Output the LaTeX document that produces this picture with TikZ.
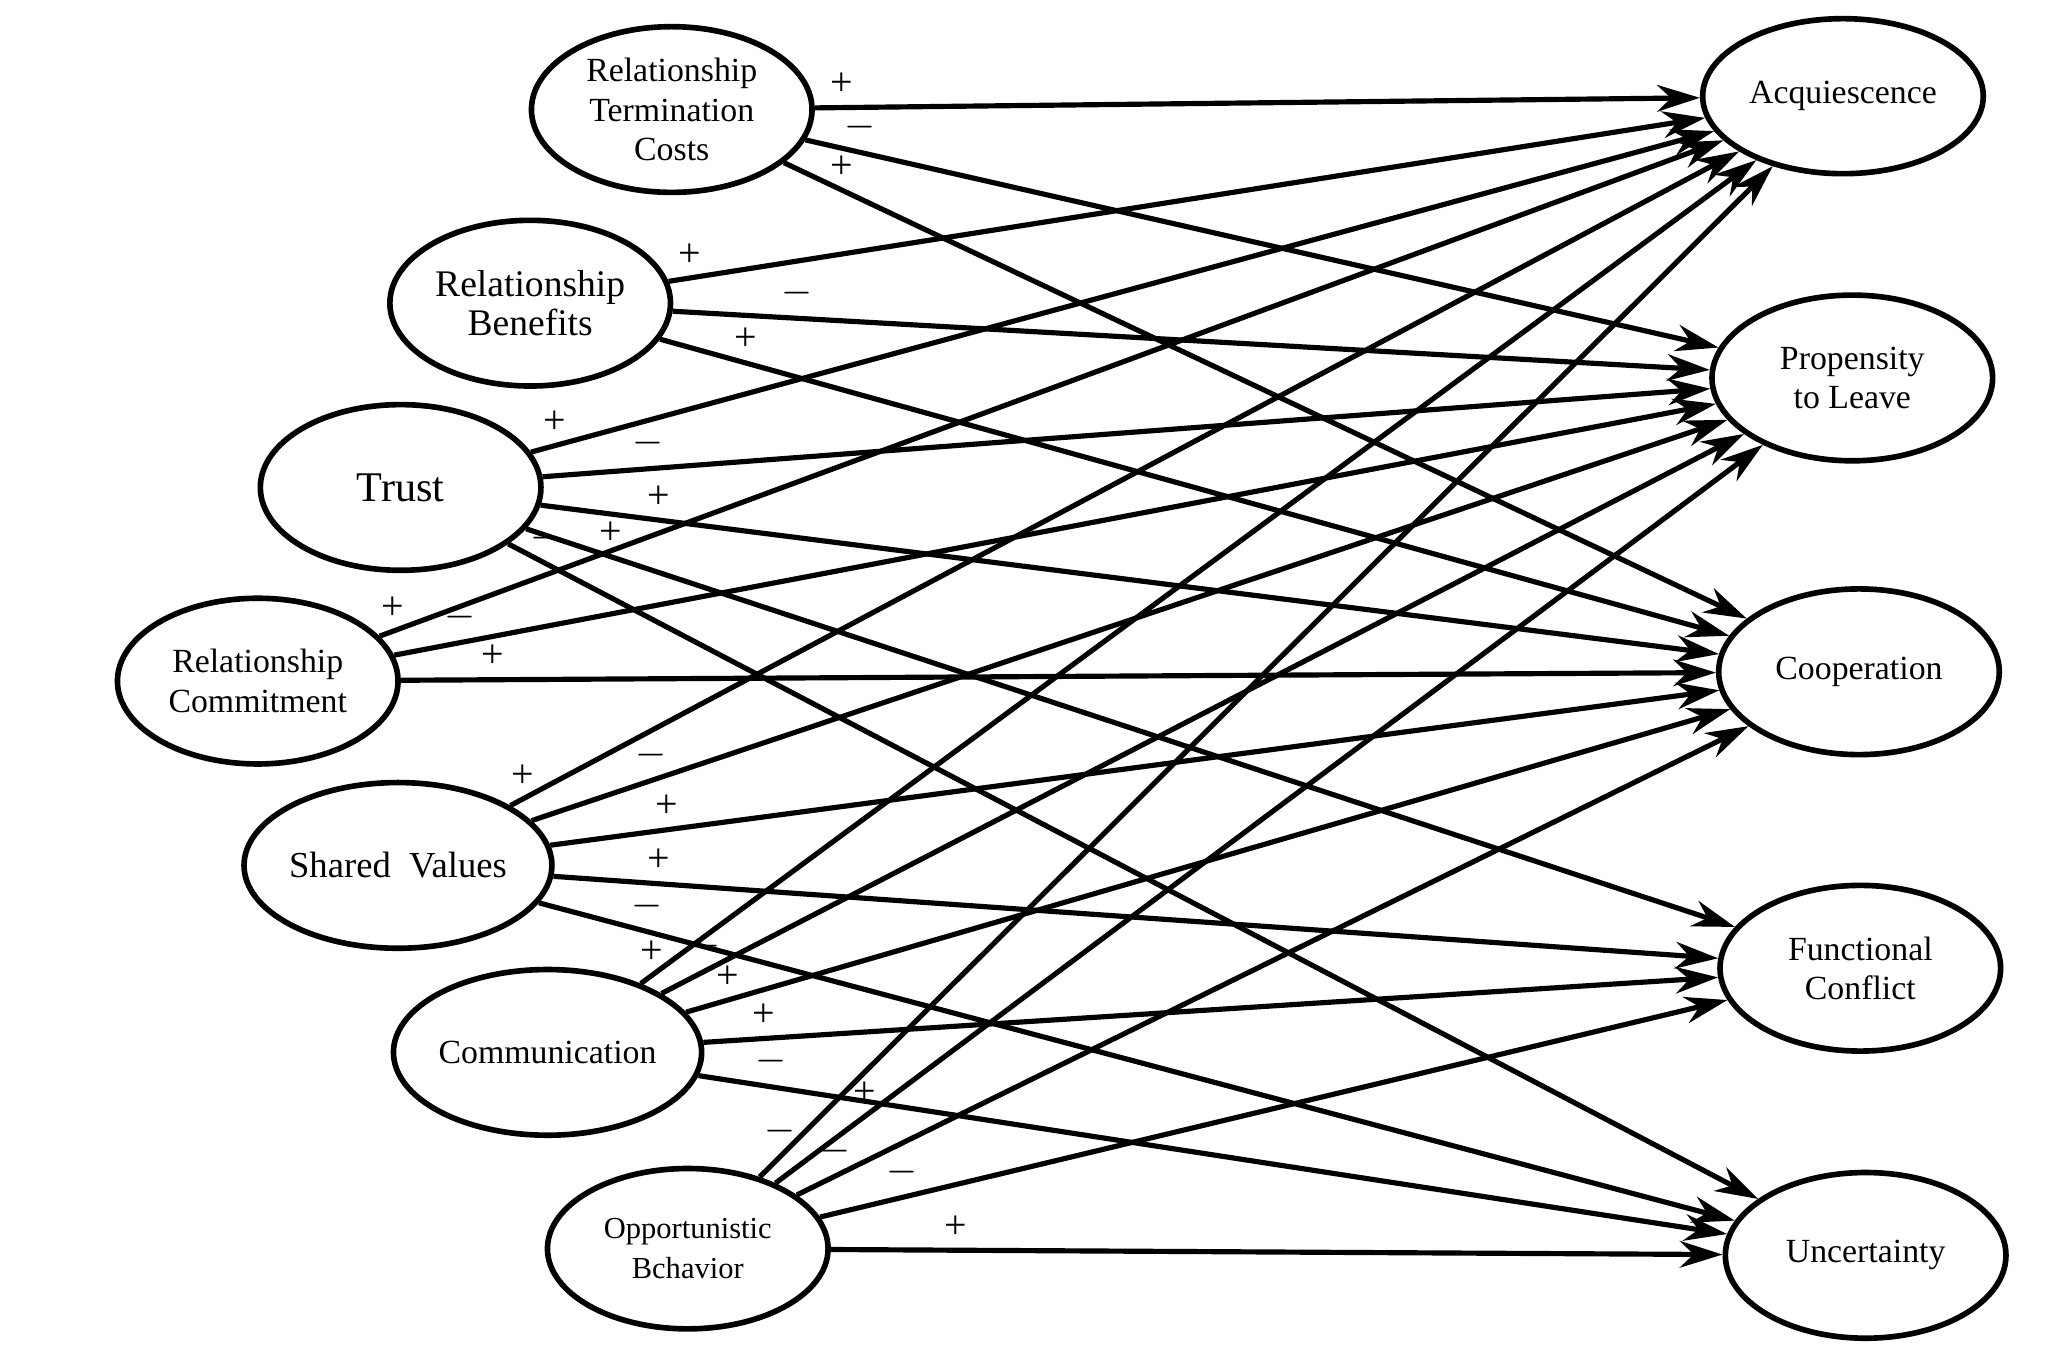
\documentclass[tikz,border=0pt]{standalone}
\usepackage{fontspec}
\setmainfont{Liberation Serif}
\usetikzlibrary{shapes.geometric,arrows.meta}
\begin{document}
\begin{tikzpicture}[x=0.01cm,y=-0.01cm,
  el/.style={ellipse,draw,line width=1.2pt,minimum width=2.1cm,minimum height=1.24cm,inner sep=0pt,align=center,font=\fontsize{7.2}{8.4}\selectfont},
  ar/.style={line width=1.1pt,-{Stealth[length=0.32cm,width=0.2cm]}},
  sg/.style={font=\fontsize{8.5}{10}\selectfont,above,pos=0.09,inner sep=2pt}]
\useasboundingbox (0,0) rectangle (1550,1008);
\node[el] (rtc) at (503,82) {Relationship\\Termination\\Costs};
\node[el] (rb) at (397,227) {\fontsize{8}{9.5}\selectfont Relationship\\\fontsize{8}{9.5}\selectfont Benefits};
\node[el] (tr) at (300,365) {\fontsize{9}{11}\selectfont Trust};
\node[el] (rc) at (193,510) {Relationship\\Commitment};
\node[el,minimum width=2.06cm] (sv) at (298,648) {\fontsize{7.8}{9}\selectfont Shared\ \ Values};
\node[el] (cm) at (410,788) {Communication};
\node[el,minimum height=1.2cm] (ob) at (515,935) {\fontsize{6.5}{8}\selectfont Opportunistic\\\fontsize{6.5}{8}\selectfont Bchavior};
\node[el,minimum height=1.16cm] (ac) at (1380,72) {Acquiescence};
\node[el] (pl) at (1387,283) {Propensity\\to Leave};
\node[el] (co) at (1392,503) {Cooperation};
\node[el] (fc) at (1393,725) {Functional\\Conflict};
\node[el] (un) at (1397,940) {Uncertainty};
\foreach \s/\t/\g/\p in {rtc/ac/+/0.03,rtc/pl/$-$/0.06,rtc/co/+/0.06,
  rb/ac/+/0.02,rb/pl/$-$/0.12,rb/co/+/0.08,
  tr/ac/+/0.02,tr/pl/$-$/0.09,tr/co/+/0.1,tr/un/$-$/0.03,tr/fc/+/0.07,
  rc/ac/+/0.01,rc/pl/$-$/0.05,rc/co/+/0.07,
  sv/ac/+/0.01,sv/pl/$-$/0.1,sv/co/+/0.1,sv/fc/+/0.09,sv/un/$-$/0.09,
  cm/ac/+/0.01,cm/pl/$-$/0.04,cm/co/+/0.04,cm/fc/+/0.06,cm/un/$-$/0.07,
  ob/ac/$-$/0.02,ob/pl/+/0.09,ob/co/$-$/0.04,ob/fc/$-$/0.09,ob/un/+/0.14}
  \draw[ar] (\s) -- (\t) node[sg,pos=\p] {\g};
\end{tikzpicture}
\end{document}
